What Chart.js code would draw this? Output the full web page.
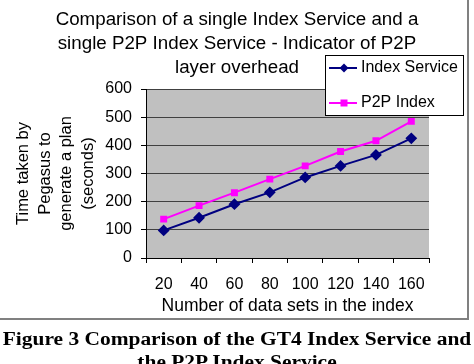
<!DOCTYPE html>
<html>
<head>
<meta charset="utf-8">
<script src="https://cdn.jsdelivr.net/npm/chart.js"></script>
<style>
  body { margin: 0; background: #fff; }
  #frame { position: relative; width: 474px; height: 318px; }
  #border { position: absolute; left: 0; top: 0; width: 467px; height: 318px; border-right: 2px solid #808080; border-bottom: 2px solid #808080; pointer-events: none; }
  #caption { font-family: "Liberation Serif", "Times New Roman", serif; font-weight: bold; font-size: 18px; line-height: 22.5px; text-align: center; width: 474px; white-space: nowrap; margin-top: 10px; transform: scaleX(1.19); transform-origin: 237px 0; }
</style>
</head>
<body>
<div id="frame"><canvas id="chart" width="474" height="318"></canvas><div id="border"></div></div>
<div id="caption">Figure 3 Comparison of the GT4 Index Service and<br>the P2P Index Service</div>
<script>
var dataSets = ['20', '40', '60', '80', '100', '120', '140', '160'];
var indexService = [98, 143, 191, 233, 286, 327, 366, 425];
var p2pIndex = [138, 186, 232, 280, 327, 378, 416, 485];
var yTicks = [0, 100, 200, 300, 400, 500, 600];

var font = 'Liberation Sans, Arial, sans-serif';

var plotBackground = {
    id: 'plotBackground',
    beforeDraw: function(chart) {
        var a = chart.chartArea, ctx = chart.ctx;
        ctx.save();
        ctx.fillStyle = '#c0c0c0';
        ctx.fillRect(a.left, a.top, a.right - a.left, a.bottom - a.top);
        ctx.restore();
    }
};

// legend box sitting over the top right corner of the plot
var boxLegend = {
    id: 'boxLegend',
    afterDraw: function(chart) {
        var ctx = chart.ctx, a = chart.chartArea;
        var x = Math.round(a.right) - 104, y = Math.round(a.top) - 34, w = 138, h = 60;
        ctx.save();
        ctx.fillStyle = '#fff';
        ctx.fillRect(x, y, w, h);
        ctx.strokeStyle = '#000';
        ctx.lineWidth = 1;
        ctx.strokeRect(x + 0.5, y + 0.5, w, h);
        ctx.font = '16px ' + font;
        ctx.textBaseline = 'middle';
        var rows = [13, 48];
        chart.data.datasets.forEach(function(ds, i) {
            var cy = y + rows[i];
            ctx.strokeStyle = ds.borderColor;
            ctx.lineWidth = 2;
            ctx.beginPath();
            ctx.moveTo(x + 4, cy);
            ctx.lineTo(x + 32, cy);
            ctx.stroke();
            ctx.fillStyle = ds.borderColor;
            ctx.beginPath();
            if (ds.pointStyle === 'rectRot') {
                ctx.moveTo(x + 19, cy - 4.5);
                ctx.lineTo(x + 23.5, cy);
                ctx.lineTo(x + 19, cy + 4.5);
                ctx.lineTo(x + 14.5, cy);
                ctx.closePath();
            } else {
                ctx.rect(x + 15.5, cy - 3.5, 7, 7);
            }
            ctx.fill();
            ctx.fillStyle = '#000';
            ctx.fillText(ds.label, x + 36, cy);
        });
        ctx.restore();
    }
};

new Chart(document.getElementById('chart'), {
    type: 'line',
    data: {
        labels: dataSets,
        datasets: [{
            label: 'Index Service',
            data: indexService,
            borderColor: '#000080',
            backgroundColor: '#000080',
            borderWidth: 2,
            pointStyle: 'rectRot',
            pointRadius: 4.5,
            tension: 0
        }, {
            label: 'P2P Index',
            data: p2pIndex,
            borderColor: '#ff00ff',
            backgroundColor: '#ff00ff',
            borderWidth: 2,
            pointStyle: 'rect',
            pointRadius: 3.5,
            tension: 0
        }]
    },
    options: {
        responsive: false,
        animation: false,
        // equal side padding keeps the title centred on the canvas
        layout: { padding: { top: 8, right: 45, left: 45, bottom: 1.5 } },
        plugins: {
            legend: { display: false },
            tooltip: { enabled: false },
            title: {
                display: true,
                text: ['Comparison of a single Index Service and a', 'single P2P Index Service - Indicator of P2P', 'layer overhead'],
                color: '#000',
                font: { family: font, size: 18.75, weight: 'normal', lineHeight: 1.28 },
                padding: { top: 0, bottom: 9 }
            }
        },
        scales: {
            x: {
                offset: true,
                afterFit: function(scale) { scale.height = 58.5; },
                grid: { offset: true, drawOnChartArea: false, drawTicks: true, tickLength: 5, tickColor: '#000' },
                border: { color: '#000', width: 1 },
                ticks: { color: '#000', font: { family: font, size: 16 }, padding: 12, maxRotation: 0 },
                title: { display: true, text: 'Number of data sets in the index', color: '#000', font: { family: font, size: 17.5 }, padding: { top: 0, bottom: 0 } }
            },
            y: {
                min: 0,
                max: 600,
                afterBuildTicks: function(scale) {
                    scale.ticks = yTicks.map(function(v) { return { value: v }; });
                },
                afterFit: function(scale) { scale.width = 101; },
                grid: { color: '#404040', lineWidth: 1, tickLength: 5, tickColor: '#000' },
                border: { color: '#000', width: 1 },
                ticks: { color: '#000', font: { family: font, size: 16 }, padding: 9 },
                title: { display: true, text: ['Time taken by', 'Pegasus to', 'generate a plan', '(seconds)'], color: '#000', font: { family: font, size: 16.5, lineHeight: 1.3 }, padding: { top: -32, bottom: 0 } }
            }
        }
    },
    plugins: [plotBackground, boxLegend]
});
</script>
</body>
</html>
